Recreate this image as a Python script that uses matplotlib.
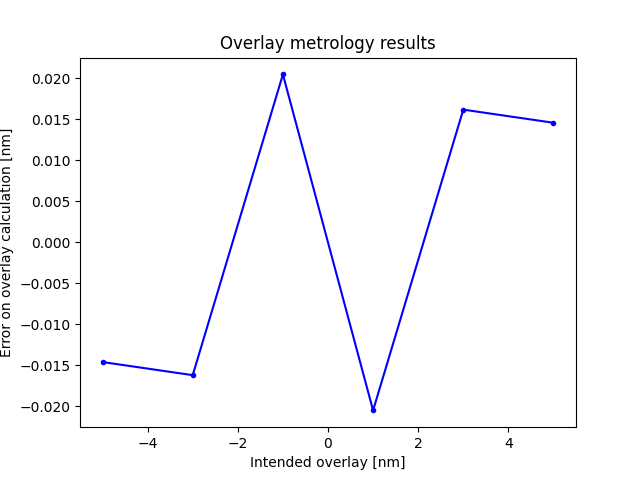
import matplotlib
matplotlib.use('Agg')
from matplotlib import pyplot as plt
from matplotlib.ticker import MultipleLocator

overlay = [-5, -3, -1, 1, 3, 5]                                   # intended overlay [nm]
error = [-0.0146, -0.0162, 0.0205, -0.0205, 0.0162, 0.0146]       # error on overlay calc [nm]

fig, ax = plt.subplots(figsize=(6.4, 4.8), dpi=100)
ax.plot(overlay, error, 'b.-')
ax.yaxis.set_major_locator(MultipleLocator(0.005))
ax.set_xlabel('Intended overlay [nm]')
ax.set_ylabel('Error on overlay calculation [nm]')
ax.set_title('Overlay metrology results')
fig.savefig('out.png')
